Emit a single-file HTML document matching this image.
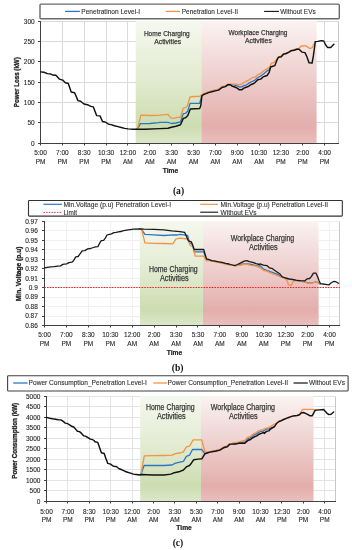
<!DOCTYPE html><html><head><meta charset="utf-8"><style>html,body{margin:0;padding:0;background:#fff;}svg{display:block;}</style></head><body><svg width="352" height="550" viewBox="0 0 352 550">
<rect width="352" height="550" fill="#fff"/>
<defs><linearGradient id="ga" x1="0" y1="0" x2="0" y2="1"><stop offset="0" stop-color="#f5f8ef"/><stop offset="0.5" stop-color="#e1eacf"/><stop offset="0.86" stop-color="#ccddb0"/><stop offset="1" stop-color="#dde7cb"/></linearGradient><linearGradient id="pa" x1="0" y1="0" x2="0" y2="1"><stop offset="0" stop-color="#faf3f2"/><stop offset="0.45" stop-color="#eed0ce"/><stop offset="0.86" stop-color="#e3aeac"/><stop offset="1" stop-color="#e9bebc"/></linearGradient></defs>
<line x1="40.5" y1="21.5" x2="338.5" y2="21.5" stroke="#dadada" stroke-width="1"/>
<line x1="40.5" y1="41.5" x2="338.5" y2="41.5" stroke="#dadada" stroke-width="1"/>
<line x1="40.5" y1="61.5" x2="338.5" y2="61.5" stroke="#dadada" stroke-width="1"/>
<line x1="40.5" y1="82.5" x2="338.5" y2="82.5" stroke="#dadada" stroke-width="1"/>
<line x1="40.5" y1="102.5" x2="338.5" y2="102.5" stroke="#dadada" stroke-width="1"/>
<line x1="40.5" y1="122.5" x2="338.5" y2="122.5" stroke="#dadada" stroke-width="1"/>
<line x1="62.5" y1="21.5" x2="62.5" y2="143.5" stroke="#dadada" stroke-width="1"/>
<line x1="84.5" y1="21.5" x2="84.5" y2="143.5" stroke="#dadada" stroke-width="1"/>
<line x1="106.5" y1="21.5" x2="106.5" y2="143.5" stroke="#dadada" stroke-width="1"/>
<line x1="127.5" y1="21.5" x2="127.5" y2="143.5" stroke="#dadada" stroke-width="1"/>
<line x1="149.5" y1="21.5" x2="149.5" y2="143.5" stroke="#dadada" stroke-width="1"/>
<line x1="171.5" y1="21.5" x2="171.5" y2="143.5" stroke="#dadada" stroke-width="1"/>
<line x1="193.5" y1="21.5" x2="193.5" y2="143.5" stroke="#dadada" stroke-width="1"/>
<line x1="215.5" y1="21.5" x2="215.5" y2="143.5" stroke="#dadada" stroke-width="1"/>
<line x1="237.5" y1="21.5" x2="237.5" y2="143.5" stroke="#dadada" stroke-width="1"/>
<line x1="259.5" y1="21.5" x2="259.5" y2="143.5" stroke="#dadada" stroke-width="1"/>
<line x1="280.5" y1="21.5" x2="280.5" y2="143.5" stroke="#dadada" stroke-width="1"/>
<line x1="302.5" y1="21.5" x2="302.5" y2="143.5" stroke="#dadada" stroke-width="1"/>
<line x1="324.5" y1="21.5" x2="324.5" y2="143.5" stroke="#dadada" stroke-width="1"/>
<rect x="135.7" y="21.0" width="65.60000000000002" height="122.0" fill="url(#ga)"/>
<rect x="201.3" y="21.0" width="115.30000000000001" height="122.0" fill="url(#pa)"/>
<line x1="338.5" y1="21.5" x2="338.5" y2="143.5" stroke="#c8c8c8" stroke-width="1"/>
<line x1="40.5" y1="21.0" x2="40.5" y2="144.0" stroke="#404040" stroke-width="1"/>
<line x1="40.5" y1="143.5" x2="339.0" y2="143.5" stroke="#404040" stroke-width="1"/>
<line x1="38.0" y1="21.5" x2="40.5" y2="21.5" stroke="#404040" stroke-width="1"/>
<line x1="38.0" y1="41.5" x2="40.5" y2="41.5" stroke="#404040" stroke-width="1"/>
<line x1="38.0" y1="61.5" x2="40.5" y2="61.5" stroke="#404040" stroke-width="1"/>
<line x1="38.0" y1="82.5" x2="40.5" y2="82.5" stroke="#404040" stroke-width="1"/>
<line x1="38.0" y1="102.5" x2="40.5" y2="102.5" stroke="#404040" stroke-width="1"/>
<line x1="38.0" y1="122.5" x2="40.5" y2="122.5" stroke="#404040" stroke-width="1"/>
<line x1="38.0" y1="143.5" x2="40.5" y2="143.5" stroke="#404040" stroke-width="1"/>
<line x1="40.5" y1="143.5" x2="40.5" y2="145.5" stroke="#404040" stroke-width="1"/>
<line x1="62.5" y1="143.5" x2="62.5" y2="145.5" stroke="#404040" stroke-width="1"/>
<line x1="84.5" y1="143.5" x2="84.5" y2="145.5" stroke="#404040" stroke-width="1"/>
<line x1="106.5" y1="143.5" x2="106.5" y2="145.5" stroke="#404040" stroke-width="1"/>
<line x1="127.5" y1="143.5" x2="127.5" y2="145.5" stroke="#404040" stroke-width="1"/>
<line x1="149.5" y1="143.5" x2="149.5" y2="145.5" stroke="#404040" stroke-width="1"/>
<line x1="171.5" y1="143.5" x2="171.5" y2="145.5" stroke="#404040" stroke-width="1"/>
<line x1="193.5" y1="143.5" x2="193.5" y2="145.5" stroke="#404040" stroke-width="1"/>
<line x1="215.5" y1="143.5" x2="215.5" y2="145.5" stroke="#404040" stroke-width="1"/>
<line x1="237.5" y1="143.5" x2="237.5" y2="145.5" stroke="#404040" stroke-width="1"/>
<line x1="259.5" y1="143.5" x2="259.5" y2="145.5" stroke="#404040" stroke-width="1"/>
<line x1="280.5" y1="143.5" x2="280.5" y2="145.5" stroke="#404040" stroke-width="1"/>
<line x1="302.5" y1="143.5" x2="302.5" y2="145.5" stroke="#404040" stroke-width="1"/>
<line x1="324.5" y1="143.5" x2="324.5" y2="145.5" stroke="#404040" stroke-width="1"/>
<text x="34.7" y="23.7" font-family='"Liberation Sans", Arial, sans-serif' font-size="6.5" text-anchor="end" font-weight="normal" fill="#2a2a2a" stroke="#2a2a2a" stroke-width="0.12" >300</text>
<text x="34.7" y="43.7" font-family='"Liberation Sans", Arial, sans-serif' font-size="6.5" text-anchor="end" font-weight="normal" fill="#2a2a2a" stroke="#2a2a2a" stroke-width="0.12" >250</text>
<text x="34.7" y="63.7" font-family='"Liberation Sans", Arial, sans-serif' font-size="6.5" text-anchor="end" font-weight="normal" fill="#2a2a2a" stroke="#2a2a2a" stroke-width="0.12" >200</text>
<text x="34.7" y="84.7" font-family='"Liberation Sans", Arial, sans-serif' font-size="6.5" text-anchor="end" font-weight="normal" fill="#2a2a2a" stroke="#2a2a2a" stroke-width="0.12" >150</text>
<text x="34.7" y="104.7" font-family='"Liberation Sans", Arial, sans-serif' font-size="6.5" text-anchor="end" font-weight="normal" fill="#2a2a2a" stroke="#2a2a2a" stroke-width="0.12" >100</text>
<text x="34.7" y="124.7" font-family='"Liberation Sans", Arial, sans-serif' font-size="6.5" text-anchor="end" font-weight="normal" fill="#2a2a2a" stroke="#2a2a2a" stroke-width="0.12" >50</text>
<text x="34.7" y="145.7" font-family='"Liberation Sans", Arial, sans-serif' font-size="6.5" text-anchor="end" font-weight="normal" fill="#2a2a2a" stroke="#2a2a2a" stroke-width="0.12" >0</text>
<text x="40.5" y="154.8" font-family='"Liberation Sans", Arial, sans-serif' font-size="6.5" text-anchor="middle" font-weight="normal" fill="#2a2a2a" stroke="#2a2a2a" stroke-width="0.12" >5:00</text>
<text x="40.5" y="164.2" font-family='"Liberation Sans", Arial, sans-serif' font-size="6.5" text-anchor="middle" font-weight="normal" fill="#2a2a2a" stroke="#2a2a2a" stroke-width="0.12" >PM</text>
<text x="62.4" y="154.8" font-family='"Liberation Sans", Arial, sans-serif' font-size="6.5" text-anchor="middle" font-weight="normal" fill="#2a2a2a" stroke="#2a2a2a" stroke-width="0.12" >7:00</text>
<text x="62.4" y="164.2" font-family='"Liberation Sans", Arial, sans-serif' font-size="6.5" text-anchor="middle" font-weight="normal" fill="#2a2a2a" stroke="#2a2a2a" stroke-width="0.12" >PM</text>
<text x="84.2" y="154.8" font-family='"Liberation Sans", Arial, sans-serif' font-size="6.5" text-anchor="middle" font-weight="normal" fill="#2a2a2a" stroke="#2a2a2a" stroke-width="0.12" >8:30</text>
<text x="84.2" y="164.2" font-family='"Liberation Sans", Arial, sans-serif' font-size="6.5" text-anchor="middle" font-weight="normal" fill="#2a2a2a" stroke="#2a2a2a" stroke-width="0.12" >PM</text>
<text x="106.1" y="154.8" font-family='"Liberation Sans", Arial, sans-serif' font-size="6.5" text-anchor="middle" font-weight="normal" fill="#2a2a2a" stroke="#2a2a2a" stroke-width="0.12" >10:30</text>
<text x="106.1" y="164.2" font-family='"Liberation Sans", Arial, sans-serif' font-size="6.5" text-anchor="middle" font-weight="normal" fill="#2a2a2a" stroke="#2a2a2a" stroke-width="0.12" >PM</text>
<text x="127.9" y="154.8" font-family='"Liberation Sans", Arial, sans-serif' font-size="6.5" text-anchor="middle" font-weight="normal" fill="#2a2a2a" stroke="#2a2a2a" stroke-width="0.12" >12:00</text>
<text x="127.9" y="164.2" font-family='"Liberation Sans", Arial, sans-serif' font-size="6.5" text-anchor="middle" font-weight="normal" fill="#2a2a2a" stroke="#2a2a2a" stroke-width="0.12" >AM</text>
<text x="149.8" y="154.8" font-family='"Liberation Sans", Arial, sans-serif' font-size="6.5" text-anchor="middle" font-weight="normal" fill="#2a2a2a" stroke="#2a2a2a" stroke-width="0.12" >2:00</text>
<text x="149.8" y="164.2" font-family='"Liberation Sans", Arial, sans-serif' font-size="6.5" text-anchor="middle" font-weight="normal" fill="#2a2a2a" stroke="#2a2a2a" stroke-width="0.12" >AM</text>
<text x="171.6" y="154.8" font-family='"Liberation Sans", Arial, sans-serif' font-size="6.5" text-anchor="middle" font-weight="normal" fill="#2a2a2a" stroke="#2a2a2a" stroke-width="0.12" >3:30</text>
<text x="171.6" y="164.2" font-family='"Liberation Sans", Arial, sans-serif' font-size="6.5" text-anchor="middle" font-weight="normal" fill="#2a2a2a" stroke="#2a2a2a" stroke-width="0.12" >AM</text>
<text x="193.5" y="154.8" font-family='"Liberation Sans", Arial, sans-serif' font-size="6.5" text-anchor="middle" font-weight="normal" fill="#2a2a2a" stroke="#2a2a2a" stroke-width="0.12" >5:30</text>
<text x="193.5" y="164.2" font-family='"Liberation Sans", Arial, sans-serif' font-size="6.5" text-anchor="middle" font-weight="normal" fill="#2a2a2a" stroke="#2a2a2a" stroke-width="0.12" >AM</text>
<text x="215.3" y="154.8" font-family='"Liberation Sans", Arial, sans-serif' font-size="6.5" text-anchor="middle" font-weight="normal" fill="#2a2a2a" stroke="#2a2a2a" stroke-width="0.12" >7:00</text>
<text x="215.3" y="164.2" font-family='"Liberation Sans", Arial, sans-serif' font-size="6.5" text-anchor="middle" font-weight="normal" fill="#2a2a2a" stroke="#2a2a2a" stroke-width="0.12" >AM</text>
<text x="237.2" y="154.8" font-family='"Liberation Sans", Arial, sans-serif' font-size="6.5" text-anchor="middle" font-weight="normal" fill="#2a2a2a" stroke="#2a2a2a" stroke-width="0.12" >9:00</text>
<text x="237.2" y="164.2" font-family='"Liberation Sans", Arial, sans-serif' font-size="6.5" text-anchor="middle" font-weight="normal" fill="#2a2a2a" stroke="#2a2a2a" stroke-width="0.12" >AM</text>
<text x="259.0" y="154.8" font-family='"Liberation Sans", Arial, sans-serif' font-size="6.5" text-anchor="middle" font-weight="normal" fill="#2a2a2a" stroke="#2a2a2a" stroke-width="0.12" >10:30</text>
<text x="259.0" y="164.2" font-family='"Liberation Sans", Arial, sans-serif' font-size="6.5" text-anchor="middle" font-weight="normal" fill="#2a2a2a" stroke="#2a2a2a" stroke-width="0.12" >AM</text>
<text x="280.9" y="154.8" font-family='"Liberation Sans", Arial, sans-serif' font-size="6.5" text-anchor="middle" font-weight="normal" fill="#2a2a2a" stroke="#2a2a2a" stroke-width="0.12" >12:30</text>
<text x="280.9" y="164.2" font-family='"Liberation Sans", Arial, sans-serif' font-size="6.5" text-anchor="middle" font-weight="normal" fill="#2a2a2a" stroke="#2a2a2a" stroke-width="0.12" >PM</text>
<text x="302.7" y="154.8" font-family='"Liberation Sans", Arial, sans-serif' font-size="6.5" text-anchor="middle" font-weight="normal" fill="#2a2a2a" stroke="#2a2a2a" stroke-width="0.12" >2:00</text>
<text x="302.7" y="164.2" font-family='"Liberation Sans", Arial, sans-serif' font-size="6.5" text-anchor="middle" font-weight="normal" fill="#2a2a2a" stroke="#2a2a2a" stroke-width="0.12" >PM</text>
<text x="324.6" y="154.8" font-family='"Liberation Sans", Arial, sans-serif' font-size="6.5" text-anchor="middle" font-weight="normal" fill="#2a2a2a" stroke="#2a2a2a" stroke-width="0.12" >4:00</text>
<text x="324.6" y="164.2" font-family='"Liberation Sans", Arial, sans-serif' font-size="6.5" text-anchor="middle" font-weight="normal" fill="#2a2a2a" stroke="#2a2a2a" stroke-width="0.12" >PM</text>
<text transform="translate(19.4,82.2) rotate(-90)" x="0" y="0" font-family='"Liberation Sans", Arial, sans-serif' font-size="6.8" font-weight="bold" text-anchor="middle" fill="#1e1e1e" stroke="#1e1e1e" stroke-width="0.3" textLength="50" lengthAdjust="spacingAndGlyphs">Power Loss (kW)</text>
<text x="170.5" y="172.6" font-family='"Liberation Sans", Arial, sans-serif' font-size="6.7" text-anchor="middle" font-weight="bold" fill="#1e1e1e" stroke="#1e1e1e" stroke-width="0.2" >Time</text>
<text x="178.5" y="194.2" font-family='"Liberation Serif", "Times New Roman", serif' font-size="9.6" text-anchor="middle" font-weight="bold" fill="#111" >(a)</text>
<text x="166.8" y="35.7" font-family='"Liberation Sans", Arial, sans-serif' font-size="7.4" text-anchor="middle" font-weight="normal" fill="#383838" textLength="45.8" lengthAdjust="spacingAndGlyphs" stroke="#383838" stroke-width="0.25" >Home Charging</text>
<text x="167.7" y="44.0" font-family='"Liberation Sans", Arial, sans-serif' font-size="7.4" text-anchor="middle" font-weight="normal" fill="#383838" textLength="26.8" lengthAdjust="spacingAndGlyphs" stroke="#383838" stroke-width="0.25" >Activities</text>
<text x="258" y="35.1" font-family='"Liberation Sans", Arial, sans-serif' font-size="7.4" text-anchor="middle" font-weight="normal" fill="#383838" textLength="58.9" lengthAdjust="spacingAndGlyphs" stroke="#383838" stroke-width="0.25" >Workplace Charging</text>
<text x="258.4" y="43.3" font-family='"Liberation Sans", Arial, sans-serif' font-size="7.4" text-anchor="middle" font-weight="normal" fill="#383838" textLength="26.8" lengthAdjust="spacingAndGlyphs" stroke="#383838" stroke-width="0.25" >Activities</text>
<rect x="40" y="4.1" width="299.3" height="14.6" rx="1" fill="#fff" stroke="#6a6a6a" stroke-width="1.4"/>
<polyline points="65.1,11.4 79.9,11.4" fill="none" stroke="#2a77c4" stroke-width="1.3" stroke-linejoin="round" stroke-linecap="butt"/>
<text x="81.3" y="13.7" font-family='"Liberation Sans", Arial, sans-serif' font-size="6.6" text-anchor="start" font-weight="normal" fill="#303030" textLength="58.9" lengthAdjust="spacingAndGlyphs" stroke="#303030" stroke-width="0.1" >Penetratinon Level-I</text>
<polyline points="165.7,11.4 180.0,11.4" fill="none" stroke="#f19446" stroke-width="1.3" stroke-linejoin="round" stroke-linecap="butt"/>
<text x="181.8" y="13.7" font-family='"Liberation Sans", Arial, sans-serif' font-size="6.6" text-anchor="start" font-weight="normal" fill="#303030" textLength="56.2" lengthAdjust="spacingAndGlyphs" stroke="#303030" stroke-width="0.1" >Penetration Level-II</text>
<polyline points="264.1,11.4 278.9,11.4" fill="none" stroke="#111" stroke-width="1.1" stroke-linejoin="round" stroke-linecap="butt"/>
<text x="280.2" y="13.7" font-family='"Liberation Sans", Arial, sans-serif' font-size="6.6" text-anchor="start" font-weight="normal" fill="#303030" textLength="35.5" lengthAdjust="spacingAndGlyphs" stroke="#303030" stroke-width="0.1" >Without EVs</text>
<polyline points="136.5,129.2 138.3,127.8 140.4,123.6 150.0,123.5 158.5,122.6 160.0,122.4 168.0,122.4 171.4,123.5 175.9,123.0 180.5,121.8 183.3,113.6 185.6,113.3 187.8,111.0 190.1,103.3 199.7,103.3 201.4,97.0 202.5,94.8 206.2,92.8 211.8,91.2 218.6,89.6 222.0,87.0 225.5,86.0 228.0,84.5 232.5,84.7 237.1,85.9 239.4,87.0 241.6,86.8 243.9,85.6 246.2,85.1 248.5,83.4 250.7,82.0 253.0,81.1 255.0,80.0 257.8,77.5 260.7,76.1 263.5,73.9 266.4,71.4 269.2,69.8 270.6,67.0" fill="none" stroke="#2a77c4" stroke-width="1.3" stroke-linejoin="round" stroke-linecap="round" />
<polyline points="136.5,129.2 137.5,128.9 140.9,115.2 150.0,115.5 158.5,115.3 160.0,115.2 168.0,114.4 170.8,117.8 173.6,118.4 177.0,117.3 180.5,117.3 183.3,108.2 185.6,107.6 187.3,105.9 190.1,96.8 194.1,96.5 200.0,96.4 200.3,95.9 202.0,94.5 206.2,92.6 211.8,90.8 218.6,89.2 222.0,86.6 225.5,85.6 228.0,84.2 234.8,84.2 239.4,84.7 241.6,84.2 243.9,82.5 246.2,81.3 248.5,80.2 250.7,78.8 253.0,77.3 255.0,77.2 257.8,74.8 260.7,73.4 263.5,71.0 266.4,69.1 269.2,67.7 271.3,63.4 273.5,62.7 276.3,59.9 278.4,57.0 281.3,55.8 283.4,53.8 286.3,53.0 289.1,51.6 291.9,50.2 294.8,49.4 297.6,48.6 299.5,48.1 300.5,46.4 302.9,45.6 306.3,45.9 309.7,48.6 312.3,47.6 314.8,42.2 315.3,41.6" fill="none" stroke="#f19446" stroke-width="1.3" stroke-linejoin="round" stroke-linecap="round" />
<polyline points="40.6,71.9 44.0,72.3 47.4,73.6 50.8,74.0 52.5,75.0 55.9,75.3 59.3,79.1 62.7,80.1 65.3,82.7 68.3,83.5 71.2,92.0 74.6,92.7 78.0,100.6 80.6,101.2 84.0,104.0 87.4,104.7 90.8,106.4 93.4,106.9 96.6,115.6 100.0,115.9 102.5,121.5 105.1,122.0 108.5,124.1 111.0,124.6 114.5,125.8 117.9,126.6 121.3,127.5 124.7,128.4 128.1,128.9 133.2,129.2 138.3,129.2 145.1,129.2 160.0,128.6 168.0,128.3 171.4,127.2 175.9,126.2 180.5,124.7 183.3,118.4 185.6,117.8 187.8,115.6 190.3,109.0 199.7,108.5 200.8,105.6 201.9,95.9 203.6,94.5 206.2,93.6 208.4,92.6 211.8,91.8 215.2,90.9 218.6,90.1 222.0,87.5 225.5,86.6 228.0,84.7 230.3,84.7 232.5,86.4 234.8,87.0 237.1,88.1 239.4,89.8 241.6,89.8 243.9,88.1 246.2,87.2 248.5,86.4 250.7,84.7 253.0,83.8 255.0,82.6 257.8,79.8 260.7,79.1 262.8,77.2 264.9,76.2 267.1,75.5 269.2,72.4 270.6,67.0 272.8,66.3 274.9,65.6 277.0,59.9 278.4,57.3 281.3,56.8 283.4,54.2 286.3,53.5 289.1,52.1 291.2,50.7 294.1,50.2 296.9,49.2 299.0,49.2 301.9,52.1 305.0,52.6 307.0,57.0 309.0,62.7 312.1,63.0 313.4,55.7 315.3,41.6 317.9,41.4 321.1,40.6 323.7,41.0 325.6,44.8 327.5,47.4 330.7,47.4 333.9,44.2" fill="none" stroke="#111" stroke-width="1.45" stroke-linejoin="round" stroke-linecap="round" />
<defs><linearGradient id="gb" x1="0" y1="0" x2="0" y2="1"><stop offset="0" stop-color="#f5f8ef"/><stop offset="0.5" stop-color="#e1eacf"/><stop offset="0.86" stop-color="#ccddb0"/><stop offset="1" stop-color="#dde7cb"/></linearGradient><linearGradient id="pb" x1="0" y1="0" x2="0" y2="1"><stop offset="0" stop-color="#faf3f2"/><stop offset="0.45" stop-color="#eed0ce"/><stop offset="0.86" stop-color="#e3aeac"/><stop offset="1" stop-color="#e9bebc"/></linearGradient></defs>
<line x1="44.5" y1="221.5" x2="339.5" y2="221.5" stroke="#f0f0f0" stroke-width="1"/>
<line x1="44.5" y1="230.5" x2="339.5" y2="230.5" stroke="#f0f0f0" stroke-width="1"/>
<line x1="44.5" y1="240.5" x2="339.5" y2="240.5" stroke="#f0f0f0" stroke-width="1"/>
<line x1="44.5" y1="249.5" x2="339.5" y2="249.5" stroke="#f0f0f0" stroke-width="1"/>
<line x1="44.5" y1="259.5" x2="339.5" y2="259.5" stroke="#f0f0f0" stroke-width="1"/>
<line x1="44.5" y1="268.5" x2="339.5" y2="268.5" stroke="#f0f0f0" stroke-width="1"/>
<line x1="44.5" y1="278.5" x2="339.5" y2="278.5" stroke="#f0f0f0" stroke-width="1"/>
<line x1="44.5" y1="287.5" x2="339.5" y2="287.5" stroke="#f0f0f0" stroke-width="1"/>
<line x1="44.5" y1="297.5" x2="339.5" y2="297.5" stroke="#f0f0f0" stroke-width="1"/>
<line x1="44.5" y1="306.5" x2="339.5" y2="306.5" stroke="#f0f0f0" stroke-width="1"/>
<line x1="44.5" y1="316.5" x2="339.5" y2="316.5" stroke="#f0f0f0" stroke-width="1"/>
<line x1="66.5" y1="221.5" x2="66.5" y2="325.5" stroke="#f0f0f0" stroke-width="1"/>
<line x1="88.5" y1="221.5" x2="88.5" y2="325.5" stroke="#f0f0f0" stroke-width="1"/>
<line x1="110.5" y1="221.5" x2="110.5" y2="325.5" stroke="#f0f0f0" stroke-width="1"/>
<line x1="132.5" y1="221.5" x2="132.5" y2="325.5" stroke="#f0f0f0" stroke-width="1"/>
<line x1="154.5" y1="221.5" x2="154.5" y2="325.5" stroke="#f0f0f0" stroke-width="1"/>
<line x1="176.5" y1="221.5" x2="176.5" y2="325.5" stroke="#f0f0f0" stroke-width="1"/>
<line x1="197.5" y1="221.5" x2="197.5" y2="325.5" stroke="#f0f0f0" stroke-width="1"/>
<line x1="219.5" y1="221.5" x2="219.5" y2="325.5" stroke="#f0f0f0" stroke-width="1"/>
<line x1="241.5" y1="221.5" x2="241.5" y2="325.5" stroke="#f0f0f0" stroke-width="1"/>
<line x1="263.5" y1="221.5" x2="263.5" y2="325.5" stroke="#f0f0f0" stroke-width="1"/>
<line x1="285.5" y1="221.5" x2="285.5" y2="325.5" stroke="#f0f0f0" stroke-width="1"/>
<line x1="307.5" y1="221.5" x2="307.5" y2="325.5" stroke="#f0f0f0" stroke-width="1"/>
<line x1="329.5" y1="221.5" x2="329.5" y2="325.5" stroke="#f0f0f0" stroke-width="1"/>
<rect x="139.9" y="221.0" width="63.099999999999994" height="104.0" fill="url(#gb)"/>
<rect x="203.0" y="221.0" width="115.60000000000002" height="104.0" fill="url(#pb)"/>
<line x1="339.5" y1="221.5" x2="339.5" y2="325.5" stroke="#c8c8c8" stroke-width="1"/>
<line x1="44.5" y1="221.0" x2="44.5" y2="326.0" stroke="#404040" stroke-width="1"/>
<line x1="44.5" y1="325.5" x2="340.0" y2="325.5" stroke="#404040" stroke-width="1"/>
<line x1="42.0" y1="221.5" x2="44.5" y2="221.5" stroke="#404040" stroke-width="1"/>
<line x1="42.0" y1="230.5" x2="44.5" y2="230.5" stroke="#404040" stroke-width="1"/>
<line x1="42.0" y1="240.5" x2="44.5" y2="240.5" stroke="#404040" stroke-width="1"/>
<line x1="42.0" y1="249.5" x2="44.5" y2="249.5" stroke="#404040" stroke-width="1"/>
<line x1="42.0" y1="259.5" x2="44.5" y2="259.5" stroke="#404040" stroke-width="1"/>
<line x1="42.0" y1="268.5" x2="44.5" y2="268.5" stroke="#404040" stroke-width="1"/>
<line x1="42.0" y1="278.5" x2="44.5" y2="278.5" stroke="#404040" stroke-width="1"/>
<line x1="42.0" y1="287.5" x2="44.5" y2="287.5" stroke="#404040" stroke-width="1"/>
<line x1="42.0" y1="297.5" x2="44.5" y2="297.5" stroke="#404040" stroke-width="1"/>
<line x1="42.0" y1="306.5" x2="44.5" y2="306.5" stroke="#404040" stroke-width="1"/>
<line x1="42.0" y1="316.5" x2="44.5" y2="316.5" stroke="#404040" stroke-width="1"/>
<line x1="42.0" y1="325.5" x2="44.5" y2="325.5" stroke="#404040" stroke-width="1"/>
<line x1="44.5" y1="325.5" x2="44.5" y2="327.5" stroke="#404040" stroke-width="1"/>
<line x1="66.5" y1="325.5" x2="66.5" y2="327.5" stroke="#404040" stroke-width="1"/>
<line x1="88.5" y1="325.5" x2="88.5" y2="327.5" stroke="#404040" stroke-width="1"/>
<line x1="110.5" y1="325.5" x2="110.5" y2="327.5" stroke="#404040" stroke-width="1"/>
<line x1="132.5" y1="325.5" x2="132.5" y2="327.5" stroke="#404040" stroke-width="1"/>
<line x1="154.5" y1="325.5" x2="154.5" y2="327.5" stroke="#404040" stroke-width="1"/>
<line x1="176.5" y1="325.5" x2="176.5" y2="327.5" stroke="#404040" stroke-width="1"/>
<line x1="197.5" y1="325.5" x2="197.5" y2="327.5" stroke="#404040" stroke-width="1"/>
<line x1="219.5" y1="325.5" x2="219.5" y2="327.5" stroke="#404040" stroke-width="1"/>
<line x1="241.5" y1="325.5" x2="241.5" y2="327.5" stroke="#404040" stroke-width="1"/>
<line x1="263.5" y1="325.5" x2="263.5" y2="327.5" stroke="#404040" stroke-width="1"/>
<line x1="285.5" y1="325.5" x2="285.5" y2="327.5" stroke="#404040" stroke-width="1"/>
<line x1="307.5" y1="325.5" x2="307.5" y2="327.5" stroke="#404040" stroke-width="1"/>
<line x1="329.5" y1="325.5" x2="329.5" y2="327.5" stroke="#404040" stroke-width="1"/>
<text x="37.8" y="223.7" font-family='"Liberation Sans", Arial, sans-serif' font-size="6.5" text-anchor="end" font-weight="normal" fill="#2a2a2a" stroke="#2a2a2a" stroke-width="0.12" >0.97</text>
<text x="37.8" y="233.17" font-family='"Liberation Sans", Arial, sans-serif' font-size="6.5" text-anchor="end" font-weight="normal" fill="#2a2a2a" stroke="#2a2a2a" stroke-width="0.12" >0.96</text>
<text x="37.8" y="242.64000000000001" font-family='"Liberation Sans", Arial, sans-serif' font-size="6.5" text-anchor="end" font-weight="normal" fill="#2a2a2a" stroke="#2a2a2a" stroke-width="0.12" >0.95</text>
<text x="37.8" y="252.11" font-family='"Liberation Sans", Arial, sans-serif' font-size="6.5" text-anchor="end" font-weight="normal" fill="#2a2a2a" stroke="#2a2a2a" stroke-width="0.12" >0.94</text>
<text x="37.8" y="261.58000000000004" font-family='"Liberation Sans", Arial, sans-serif' font-size="6.5" text-anchor="end" font-weight="normal" fill="#2a2a2a" stroke="#2a2a2a" stroke-width="0.12" >0.93</text>
<text x="37.8" y="271.05" font-family='"Liberation Sans", Arial, sans-serif' font-size="6.5" text-anchor="end" font-weight="normal" fill="#2a2a2a" stroke="#2a2a2a" stroke-width="0.12" >0.92</text>
<text x="37.8" y="280.52000000000004" font-family='"Liberation Sans", Arial, sans-serif' font-size="6.5" text-anchor="end" font-weight="normal" fill="#2a2a2a" stroke="#2a2a2a" stroke-width="0.12" >0.91</text>
<text x="37.8" y="289.99000000000007" font-family='"Liberation Sans", Arial, sans-serif' font-size="6.5" text-anchor="end" font-weight="normal" fill="#2a2a2a" stroke="#2a2a2a" stroke-width="0.12" >0.9</text>
<text x="37.8" y="299.46" font-family='"Liberation Sans", Arial, sans-serif' font-size="6.5" text-anchor="end" font-weight="normal" fill="#2a2a2a" stroke="#2a2a2a" stroke-width="0.12" >0.89</text>
<text x="37.8" y="308.92999999999995" font-family='"Liberation Sans", Arial, sans-serif' font-size="6.5" text-anchor="end" font-weight="normal" fill="#2a2a2a" stroke="#2a2a2a" stroke-width="0.12" >0.88</text>
<text x="37.8" y="318.4" font-family='"Liberation Sans", Arial, sans-serif' font-size="6.5" text-anchor="end" font-weight="normal" fill="#2a2a2a" stroke="#2a2a2a" stroke-width="0.12" >0.87</text>
<text x="37.8" y="327.86999999999995" font-family='"Liberation Sans", Arial, sans-serif' font-size="6.5" text-anchor="end" font-weight="normal" fill="#2a2a2a" stroke="#2a2a2a" stroke-width="0.12" >0.86</text>
<text x="44.5" y="337.3" font-family='"Liberation Sans", Arial, sans-serif' font-size="6.5" text-anchor="middle" font-weight="normal" fill="#2a2a2a" stroke="#2a2a2a" stroke-width="0.12" >5:00</text>
<text x="44.5" y="345.6" font-family='"Liberation Sans", Arial, sans-serif' font-size="6.5" text-anchor="middle" font-weight="normal" fill="#2a2a2a" stroke="#2a2a2a" stroke-width="0.12" >PM</text>
<text x="66.4" y="337.3" font-family='"Liberation Sans", Arial, sans-serif' font-size="6.5" text-anchor="middle" font-weight="normal" fill="#2a2a2a" stroke="#2a2a2a" stroke-width="0.12" >7:00</text>
<text x="66.4" y="345.6" font-family='"Liberation Sans", Arial, sans-serif' font-size="6.5" text-anchor="middle" font-weight="normal" fill="#2a2a2a" stroke="#2a2a2a" stroke-width="0.12" >PM</text>
<text x="88.3" y="337.3" font-family='"Liberation Sans", Arial, sans-serif' font-size="6.5" text-anchor="middle" font-weight="normal" fill="#2a2a2a" stroke="#2a2a2a" stroke-width="0.12" >8:30</text>
<text x="88.3" y="345.6" font-family='"Liberation Sans", Arial, sans-serif' font-size="6.5" text-anchor="middle" font-weight="normal" fill="#2a2a2a" stroke="#2a2a2a" stroke-width="0.12" >PM</text>
<text x="110.3" y="337.3" font-family='"Liberation Sans", Arial, sans-serif' font-size="6.5" text-anchor="middle" font-weight="normal" fill="#2a2a2a" stroke="#2a2a2a" stroke-width="0.12" >10:30</text>
<text x="110.3" y="345.6" font-family='"Liberation Sans", Arial, sans-serif' font-size="6.5" text-anchor="middle" font-weight="normal" fill="#2a2a2a" stroke="#2a2a2a" stroke-width="0.12" >PM</text>
<text x="132.2" y="337.3" font-family='"Liberation Sans", Arial, sans-serif' font-size="6.5" text-anchor="middle" font-weight="normal" fill="#2a2a2a" stroke="#2a2a2a" stroke-width="0.12" >12:00</text>
<text x="132.2" y="345.6" font-family='"Liberation Sans", Arial, sans-serif' font-size="6.5" text-anchor="middle" font-weight="normal" fill="#2a2a2a" stroke="#2a2a2a" stroke-width="0.12" >AM</text>
<text x="154.1" y="337.3" font-family='"Liberation Sans", Arial, sans-serif' font-size="6.5" text-anchor="middle" font-weight="normal" fill="#2a2a2a" stroke="#2a2a2a" stroke-width="0.12" >2:00</text>
<text x="154.1" y="345.6" font-family='"Liberation Sans", Arial, sans-serif' font-size="6.5" text-anchor="middle" font-weight="normal" fill="#2a2a2a" stroke="#2a2a2a" stroke-width="0.12" >AM</text>
<text x="176.0" y="337.3" font-family='"Liberation Sans", Arial, sans-serif' font-size="6.5" text-anchor="middle" font-weight="normal" fill="#2a2a2a" stroke="#2a2a2a" stroke-width="0.12" >3:30</text>
<text x="176.0" y="345.6" font-family='"Liberation Sans", Arial, sans-serif' font-size="6.5" text-anchor="middle" font-weight="normal" fill="#2a2a2a" stroke="#2a2a2a" stroke-width="0.12" >AM</text>
<text x="198.0" y="337.3" font-family='"Liberation Sans", Arial, sans-serif' font-size="6.5" text-anchor="middle" font-weight="normal" fill="#2a2a2a" stroke="#2a2a2a" stroke-width="0.12" >5:30</text>
<text x="198.0" y="345.6" font-family='"Liberation Sans", Arial, sans-serif' font-size="6.5" text-anchor="middle" font-weight="normal" fill="#2a2a2a" stroke="#2a2a2a" stroke-width="0.12" >AM</text>
<text x="219.9" y="337.3" font-family='"Liberation Sans", Arial, sans-serif' font-size="6.5" text-anchor="middle" font-weight="normal" fill="#2a2a2a" stroke="#2a2a2a" stroke-width="0.12" >7:00</text>
<text x="219.9" y="345.6" font-family='"Liberation Sans", Arial, sans-serif' font-size="6.5" text-anchor="middle" font-weight="normal" fill="#2a2a2a" stroke="#2a2a2a" stroke-width="0.12" >AM</text>
<text x="241.8" y="337.3" font-family='"Liberation Sans", Arial, sans-serif' font-size="6.5" text-anchor="middle" font-weight="normal" fill="#2a2a2a" stroke="#2a2a2a" stroke-width="0.12" >9:00</text>
<text x="241.8" y="345.6" font-family='"Liberation Sans", Arial, sans-serif' font-size="6.5" text-anchor="middle" font-weight="normal" fill="#2a2a2a" stroke="#2a2a2a" stroke-width="0.12" >AM</text>
<text x="263.7" y="337.3" font-family='"Liberation Sans", Arial, sans-serif' font-size="6.5" text-anchor="middle" font-weight="normal" fill="#2a2a2a" stroke="#2a2a2a" stroke-width="0.12" >10:30</text>
<text x="263.7" y="345.6" font-family='"Liberation Sans", Arial, sans-serif' font-size="6.5" text-anchor="middle" font-weight="normal" fill="#2a2a2a" stroke="#2a2a2a" stroke-width="0.12" >AM</text>
<text x="285.7" y="337.3" font-family='"Liberation Sans", Arial, sans-serif' font-size="6.5" text-anchor="middle" font-weight="normal" fill="#2a2a2a" stroke="#2a2a2a" stroke-width="0.12" >12:30</text>
<text x="285.7" y="345.6" font-family='"Liberation Sans", Arial, sans-serif' font-size="6.5" text-anchor="middle" font-weight="normal" fill="#2a2a2a" stroke="#2a2a2a" stroke-width="0.12" >PM</text>
<text x="307.6" y="337.3" font-family='"Liberation Sans", Arial, sans-serif' font-size="6.5" text-anchor="middle" font-weight="normal" fill="#2a2a2a" stroke="#2a2a2a" stroke-width="0.12" >2:00</text>
<text x="307.6" y="345.6" font-family='"Liberation Sans", Arial, sans-serif' font-size="6.5" text-anchor="middle" font-weight="normal" fill="#2a2a2a" stroke="#2a2a2a" stroke-width="0.12" >PM</text>
<text x="329.5" y="337.3" font-family='"Liberation Sans", Arial, sans-serif' font-size="6.5" text-anchor="middle" font-weight="normal" fill="#2a2a2a" stroke="#2a2a2a" stroke-width="0.12" >4:00</text>
<text x="329.5" y="345.6" font-family='"Liberation Sans", Arial, sans-serif' font-size="6.5" text-anchor="middle" font-weight="normal" fill="#2a2a2a" stroke="#2a2a2a" stroke-width="0.12" >PM</text>
<text transform="translate(21.3,273.9) rotate(-90)" x="0" y="0" font-family='"Liberation Sans", Arial, sans-serif' font-size="6.8" font-weight="bold" text-anchor="middle" fill="#1e1e1e" stroke="#1e1e1e" stroke-width="0.3" textLength="54.6" lengthAdjust="spacingAndGlyphs">Min. Voltage (p.u)</text>
<text x="174.5" y="355.0" font-family='"Liberation Sans", Arial, sans-serif' font-size="6.7" text-anchor="middle" font-weight="bold" fill="#1e1e1e" stroke="#1e1e1e" stroke-width="0.2" >Time</text>
<text x="177.7" y="370.5" font-family='"Liberation Serif", "Times New Roman", serif' font-size="9.6" text-anchor="middle" font-weight="bold" fill="#111" >(b)</text>
<text x="173.3" y="272.0" font-family='"Liberation Sans", Arial, sans-serif' font-size="8.3" text-anchor="middle" font-weight="normal" fill="#383838" textLength="48.8" lengthAdjust="spacingAndGlyphs" stroke="#383838" stroke-width="0.25" >Home Charging</text>
<text x="174.3" y="280.9" font-family='"Liberation Sans", Arial, sans-serif' font-size="8.3" text-anchor="middle" font-weight="normal" fill="#383838" textLength="28.8" lengthAdjust="spacingAndGlyphs" stroke="#383838" stroke-width="0.25" >Activities</text>
<text x="262.5" y="241.2" font-family='"Liberation Sans", Arial, sans-serif' font-size="8.3" text-anchor="middle" font-weight="normal" fill="#383838" textLength="63.6" lengthAdjust="spacingAndGlyphs" stroke="#383838" stroke-width="0.25" >Workplace Charging</text>
<text x="263.3" y="250.1" font-family='"Liberation Sans", Arial, sans-serif' font-size="8.3" text-anchor="middle" font-weight="normal" fill="#383838" textLength="28.8" lengthAdjust="spacingAndGlyphs" stroke="#383838" stroke-width="0.25" >Activities</text>
<rect x="28.5" y="200.5" width="313.8" height="15.6" rx="0.8" fill="#fff" stroke="#333" stroke-width="1.1"/>
<polyline points="43.4,204.3 61.8,204.3" fill="none" stroke="#2a77c4" stroke-width="1.2" stroke-linejoin="round" stroke-linecap="butt"/>
<text x="63.5" y="207.0" font-family='"Liberation Sans", Arial, sans-serif' font-size="6.6" text-anchor="start" font-weight="normal" fill="#303030" textLength="107.5" lengthAdjust="spacingAndGlyphs" stroke="#303030" stroke-width="0.1" >Min.Voltage (p.u) Penetration Level-I</text>
<polyline points="43.4,212.4 61.8,212.4" fill="none" stroke="#f03c3c" stroke-width="1.0" stroke-linejoin="round" stroke-dasharray="1.6,1.1" stroke-linecap="butt"/>
<text x="63.5" y="214.8" font-family='"Liberation Sans", Arial, sans-serif' font-size="6.6" text-anchor="start" font-weight="normal" fill="#303030" textLength="13.5" lengthAdjust="spacingAndGlyphs" stroke="#303030" stroke-width="0.1" >Limit</text>
<polyline points="200.2,204.3 218.1,204.3" fill="none" stroke="#f19446" stroke-width="1.2" stroke-linejoin="round" stroke-linecap="butt"/>
<text x="220.6" y="206.9" font-family='"Liberation Sans", Arial, sans-serif' font-size="6.6" text-anchor="start" font-weight="normal" fill="#303030" textLength="107.4" lengthAdjust="spacingAndGlyphs" stroke="#303030" stroke-width="0.1" >Min.Voltage (p.u) Penetration Level-II</text>
<polyline points="200.2,212.2 218.1,212.2" fill="none" stroke="#111" stroke-width="1.1" stroke-linejoin="round" stroke-linecap="butt"/>
<text x="220.6" y="214.6" font-family='"Liberation Sans", Arial, sans-serif' font-size="6.6" text-anchor="start" font-weight="normal" fill="#303030" textLength="36" lengthAdjust="spacingAndGlyphs" stroke="#303030" stroke-width="0.1" >Without EVs</text>
<polyline points="44.3,287.5 339.8,287.5" fill="none" stroke="#ff2020" stroke-width="1.0" stroke-linejoin="round" stroke-dasharray="1.6,1.1" stroke-linecap="butt"/>
<polyline points="140.0,228.9 141.9,229.9 144.9,234.3 153.9,234.9 163.8,235.5 173.7,234.9 177.7,235.0 180.0,234.3 187.6,235.3 189.5,242.8 192.3,243.8 194.2,251.9 203.7,251.9 206.5,259.9 208.4,259.6 211.8,260.8 215.2,261.4 218.6,262.1 222.0,262.6 225.5,263.6 228.9,264.3 232.3,265.1 234.8,265.7 237.4,265.3 240.8,264.5 245.9,263.6 251.0,264.5 256.1,265.7 259.5,266.2 260.0,265.6 263.4,269.0 266.8,270.3 270.2,271.7 273.6,272.9 277.0,274.1 280.5,276.3 282.2,277.2 285.6,278.3 289.0,279.2 292.4,279.7 295.8,280.4 299.2,280.9 300.0,281.0 305.1,281.9 307.7,283.0 312.8,282.6 316.6,281.9 318.5,282.8 319.8,284.0" fill="none" stroke="#2a77c4" stroke-width="1.3" stroke-linejoin="round" stroke-linecap="round" />
<polyline points="140.0,228.9 141.9,230.3 144.9,242.9 153.9,243.3 163.8,243.5 172.8,243.9 176.1,238.9 180.0,238.1 187.6,239.0 190.4,245.7 193.3,246.6 195.2,256.1 203.7,256.1 206.5,260.8 208.4,260.4 211.8,261.2 215.2,261.9 220.0,262.9 225.5,264.0 230.0,265.0 234.8,265.7 239.1,265.3 245.9,264.0 251.0,265.3 256.1,266.2 260.0,267.8 263.4,270.3 266.8,271.2 270.2,272.9 273.6,274.1 277.0,275.5 280.5,276.8 284.7,278.0 286.9,280.6 288.6,284.8 291.5,285.3 293.2,281.4 295.8,280.6 300.0,280.8 305.1,282.0 307.7,283.3 312.8,282.8 316.6,282.0 318.5,283.0 319.8,284.0" fill="none" stroke="#f19446" stroke-width="1.3" stroke-linejoin="round" stroke-linecap="round" />
<polyline points="44.5,267.8 47.4,267.3 50.8,266.9 54.2,266.7 57.6,266.1 60.5,265.9 62.8,264.4 64.5,264.1 66.7,263.9 69.0,262.7 71.8,262.2 73.5,260.7 75.8,256.8 78.1,256.5 80.4,253.4 82.1,250.8 84.8,250.6 87.7,248.9 90.5,248.5 93.4,247.5 95.6,246.8 97.9,246.6 99.6,243.2 101.3,240.7 103.6,240.3 105.3,238.1 107.0,235.0 109.3,234.3 111.5,233.9 113.8,232.7 116.1,232.4 118.4,231.8 120.6,231.5 122.0,231.3 122.4,230.9 128.1,229.8 133.8,229.2 140.0,228.8 143.9,229.1 153.9,229.3 163.8,229.9 171.8,230.9 180.0,231.6 184.7,232.4 188.5,240.9 191.4,241.9 194.2,249.5 203.7,249.5 206.5,258.9 208.4,259.4 211.8,260.6 215.2,261.2 218.6,261.9 222.0,262.3 225.5,263.3 228.9,264.0 232.3,265.0 234.8,265.7 237.4,264.5 240.8,262.8 244.2,261.1 246.8,260.6 249.3,261.6 252.7,262.3 256.1,263.6 259.5,264.5 260.0,263.8 263.4,265.2 266.8,265.6 269.4,267.8 271.9,268.3 274.5,270.3 277.0,272.0 279.6,273.7 282.2,276.8 285.6,278.0 289.0,278.9 292.4,279.4 295.8,280.2 299.2,280.6 300.0,280.7 304.5,280.9 307.0,278.9 309.6,278.5 311.5,276.4 313.4,273.2 316.0,273.2 317.3,276.0 319.2,281.1 320.5,283.7 323.0,284.0 325.6,284.3 328.8,284.9 331.3,282.8 333.5,281.5 335.8,281.7 338.6,283.3" fill="none" stroke="#1a1a1a" stroke-width="1.3" stroke-linejoin="round" stroke-linecap="round" />
<defs><linearGradient id="gc" x1="0" y1="0" x2="0" y2="1"><stop offset="0" stop-color="#f5f8ef"/><stop offset="0.5" stop-color="#e1eacf"/><stop offset="0.86" stop-color="#ccddb0"/><stop offset="1" stop-color="#dde7cb"/></linearGradient><linearGradient id="pc" x1="0" y1="0" x2="0" y2="1"><stop offset="0" stop-color="#faf3f2"/><stop offset="0.45" stop-color="#eed0ce"/><stop offset="0.86" stop-color="#e3aeac"/><stop offset="1" stop-color="#e9bebc"/></linearGradient></defs>
<line x1="46.5" y1="396.5" x2="335.5" y2="396.5" stroke="#e3e3e3" stroke-width="1"/>
<line x1="46.5" y1="406.5" x2="335.5" y2="406.5" stroke="#e3e3e3" stroke-width="1"/>
<line x1="46.5" y1="417.5" x2="335.5" y2="417.5" stroke="#e3e3e3" stroke-width="1"/>
<line x1="46.5" y1="427.5" x2="335.5" y2="427.5" stroke="#e3e3e3" stroke-width="1"/>
<line x1="46.5" y1="438.5" x2="335.5" y2="438.5" stroke="#e3e3e3" stroke-width="1"/>
<line x1="46.5" y1="448.5" x2="335.5" y2="448.5" stroke="#e3e3e3" stroke-width="1"/>
<line x1="46.5" y1="459.5" x2="335.5" y2="459.5" stroke="#e3e3e3" stroke-width="1"/>
<line x1="46.5" y1="469.5" x2="335.5" y2="469.5" stroke="#e3e3e3" stroke-width="1"/>
<line x1="46.5" y1="480.5" x2="335.5" y2="480.5" stroke="#e3e3e3" stroke-width="1"/>
<line x1="46.5" y1="490.5" x2="335.5" y2="490.5" stroke="#e3e3e3" stroke-width="1"/>
<line x1="67.5" y1="396.5" x2="67.5" y2="501.5" stroke="#e3e3e3" stroke-width="1"/>
<line x1="89.5" y1="396.5" x2="89.5" y2="501.5" stroke="#e3e3e3" stroke-width="1"/>
<line x1="110.5" y1="396.5" x2="110.5" y2="501.5" stroke="#e3e3e3" stroke-width="1"/>
<line x1="132.5" y1="396.5" x2="132.5" y2="501.5" stroke="#e3e3e3" stroke-width="1"/>
<line x1="153.5" y1="396.5" x2="153.5" y2="501.5" stroke="#e3e3e3" stroke-width="1"/>
<line x1="174.5" y1="396.5" x2="174.5" y2="501.5" stroke="#e3e3e3" stroke-width="1"/>
<line x1="196.5" y1="396.5" x2="196.5" y2="501.5" stroke="#e3e3e3" stroke-width="1"/>
<line x1="217.5" y1="396.5" x2="217.5" y2="501.5" stroke="#e3e3e3" stroke-width="1"/>
<line x1="239.5" y1="396.5" x2="239.5" y2="501.5" stroke="#e3e3e3" stroke-width="1"/>
<line x1="260.5" y1="396.5" x2="260.5" y2="501.5" stroke="#e3e3e3" stroke-width="1"/>
<line x1="281.5" y1="396.5" x2="281.5" y2="501.5" stroke="#e3e3e3" stroke-width="1"/>
<line x1="303.5" y1="396.5" x2="303.5" y2="501.5" stroke="#e3e3e3" stroke-width="1"/>
<line x1="324.5" y1="396.5" x2="324.5" y2="501.5" stroke="#e3e3e3" stroke-width="1"/>
<rect x="140.2" y="396.0" width="60.80000000000001" height="105.0" fill="url(#gc)"/>
<rect x="201.0" y="396.0" width="112.5" height="105.0" fill="url(#pc)"/>
<line x1="335.5" y1="396.5" x2="335.5" y2="501.5" stroke="#c8c8c8" stroke-width="1"/>
<line x1="46.5" y1="396.0" x2="46.5" y2="502.0" stroke="#404040" stroke-width="1"/>
<line x1="46.5" y1="501.5" x2="336.0" y2="501.5" stroke="#404040" stroke-width="1"/>
<line x1="44.0" y1="396.5" x2="46.5" y2="396.5" stroke="#404040" stroke-width="1"/>
<line x1="44.0" y1="406.5" x2="46.5" y2="406.5" stroke="#404040" stroke-width="1"/>
<line x1="44.0" y1="417.5" x2="46.5" y2="417.5" stroke="#404040" stroke-width="1"/>
<line x1="44.0" y1="427.5" x2="46.5" y2="427.5" stroke="#404040" stroke-width="1"/>
<line x1="44.0" y1="438.5" x2="46.5" y2="438.5" stroke="#404040" stroke-width="1"/>
<line x1="44.0" y1="448.5" x2="46.5" y2="448.5" stroke="#404040" stroke-width="1"/>
<line x1="44.0" y1="459.5" x2="46.5" y2="459.5" stroke="#404040" stroke-width="1"/>
<line x1="44.0" y1="469.5" x2="46.5" y2="469.5" stroke="#404040" stroke-width="1"/>
<line x1="44.0" y1="480.5" x2="46.5" y2="480.5" stroke="#404040" stroke-width="1"/>
<line x1="44.0" y1="490.5" x2="46.5" y2="490.5" stroke="#404040" stroke-width="1"/>
<line x1="44.0" y1="501.5" x2="46.5" y2="501.5" stroke="#404040" stroke-width="1"/>
<line x1="46.5" y1="501.5" x2="46.5" y2="503.5" stroke="#404040" stroke-width="1"/>
<line x1="67.5" y1="501.5" x2="67.5" y2="503.5" stroke="#404040" stroke-width="1"/>
<line x1="89.5" y1="501.5" x2="89.5" y2="503.5" stroke="#404040" stroke-width="1"/>
<line x1="110.5" y1="501.5" x2="110.5" y2="503.5" stroke="#404040" stroke-width="1"/>
<line x1="132.5" y1="501.5" x2="132.5" y2="503.5" stroke="#404040" stroke-width="1"/>
<line x1="153.5" y1="501.5" x2="153.5" y2="503.5" stroke="#404040" stroke-width="1"/>
<line x1="174.5" y1="501.5" x2="174.5" y2="503.5" stroke="#404040" stroke-width="1"/>
<line x1="196.5" y1="501.5" x2="196.5" y2="503.5" stroke="#404040" stroke-width="1"/>
<line x1="217.5" y1="501.5" x2="217.5" y2="503.5" stroke="#404040" stroke-width="1"/>
<line x1="239.5" y1="501.5" x2="239.5" y2="503.5" stroke="#404040" stroke-width="1"/>
<line x1="260.5" y1="501.5" x2="260.5" y2="503.5" stroke="#404040" stroke-width="1"/>
<line x1="281.5" y1="501.5" x2="281.5" y2="503.5" stroke="#404040" stroke-width="1"/>
<line x1="303.5" y1="501.5" x2="303.5" y2="503.5" stroke="#404040" stroke-width="1"/>
<line x1="324.5" y1="501.5" x2="324.5" y2="503.5" stroke="#404040" stroke-width="1"/>
<text x="40.4" y="398.59999999999997" font-family='"Liberation Sans", Arial, sans-serif' font-size="6.5" text-anchor="end" font-weight="normal" fill="#2a2a2a" stroke="#2a2a2a" stroke-width="0.12" >5000</text>
<text x="40.4" y="409.10999999999996" font-family='"Liberation Sans", Arial, sans-serif' font-size="6.5" text-anchor="end" font-weight="normal" fill="#2a2a2a" stroke="#2a2a2a" stroke-width="0.12" >4500</text>
<text x="40.4" y="419.62" font-family='"Liberation Sans", Arial, sans-serif' font-size="6.5" text-anchor="end" font-weight="normal" fill="#2a2a2a" stroke="#2a2a2a" stroke-width="0.12" >4000</text>
<text x="40.4" y="430.13" font-family='"Liberation Sans", Arial, sans-serif' font-size="6.5" text-anchor="end" font-weight="normal" fill="#2a2a2a" stroke="#2a2a2a" stroke-width="0.12" >3500</text>
<text x="40.4" y="440.64" font-family='"Liberation Sans", Arial, sans-serif' font-size="6.5" text-anchor="end" font-weight="normal" fill="#2a2a2a" stroke="#2a2a2a" stroke-width="0.12" >3000</text>
<text x="40.4" y="451.15" font-family='"Liberation Sans", Arial, sans-serif' font-size="6.5" text-anchor="end" font-weight="normal" fill="#2a2a2a" stroke="#2a2a2a" stroke-width="0.12" >2500</text>
<text x="40.4" y="461.65999999999997" font-family='"Liberation Sans", Arial, sans-serif' font-size="6.5" text-anchor="end" font-weight="normal" fill="#2a2a2a" stroke="#2a2a2a" stroke-width="0.12" >2000</text>
<text x="40.4" y="472.17" font-family='"Liberation Sans", Arial, sans-serif' font-size="6.5" text-anchor="end" font-weight="normal" fill="#2a2a2a" stroke="#2a2a2a" stroke-width="0.12" >1500</text>
<text x="40.4" y="482.68" font-family='"Liberation Sans", Arial, sans-serif' font-size="6.5" text-anchor="end" font-weight="normal" fill="#2a2a2a" stroke="#2a2a2a" stroke-width="0.12" >1000</text>
<text x="40.4" y="493.19" font-family='"Liberation Sans", Arial, sans-serif' font-size="6.5" text-anchor="end" font-weight="normal" fill="#2a2a2a" stroke="#2a2a2a" stroke-width="0.12" >500</text>
<text x="40.4" y="503.7" font-family='"Liberation Sans", Arial, sans-serif' font-size="6.5" text-anchor="end" font-weight="normal" fill="#2a2a2a" stroke="#2a2a2a" stroke-width="0.12" >0</text>
<text x="46.5" y="513.5" font-family='"Liberation Sans", Arial, sans-serif' font-size="6.5" text-anchor="middle" font-weight="normal" fill="#2a2a2a" stroke="#2a2a2a" stroke-width="0.12" >5:00</text>
<text x="46.5" y="522.2" font-family='"Liberation Sans", Arial, sans-serif' font-size="6.5" text-anchor="middle" font-weight="normal" fill="#2a2a2a" stroke="#2a2a2a" stroke-width="0.12" >PM</text>
<text x="67.9" y="513.5" font-family='"Liberation Sans", Arial, sans-serif' font-size="6.5" text-anchor="middle" font-weight="normal" fill="#2a2a2a" stroke="#2a2a2a" stroke-width="0.12" >7:00</text>
<text x="67.9" y="522.2" font-family='"Liberation Sans", Arial, sans-serif' font-size="6.5" text-anchor="middle" font-weight="normal" fill="#2a2a2a" stroke="#2a2a2a" stroke-width="0.12" >PM</text>
<text x="89.3" y="513.5" font-family='"Liberation Sans", Arial, sans-serif' font-size="6.5" text-anchor="middle" font-weight="normal" fill="#2a2a2a" stroke="#2a2a2a" stroke-width="0.12" >8:30</text>
<text x="89.3" y="522.2" font-family='"Liberation Sans", Arial, sans-serif' font-size="6.5" text-anchor="middle" font-weight="normal" fill="#2a2a2a" stroke="#2a2a2a" stroke-width="0.12" >PM</text>
<text x="110.7" y="513.5" font-family='"Liberation Sans", Arial, sans-serif' font-size="6.5" text-anchor="middle" font-weight="normal" fill="#2a2a2a" stroke="#2a2a2a" stroke-width="0.12" >10:30</text>
<text x="110.7" y="522.2" font-family='"Liberation Sans", Arial, sans-serif' font-size="6.5" text-anchor="middle" font-weight="normal" fill="#2a2a2a" stroke="#2a2a2a" stroke-width="0.12" >PM</text>
<text x="132.1" y="513.5" font-family='"Liberation Sans", Arial, sans-serif' font-size="6.5" text-anchor="middle" font-weight="normal" fill="#2a2a2a" stroke="#2a2a2a" stroke-width="0.12" >12:00</text>
<text x="132.1" y="522.2" font-family='"Liberation Sans", Arial, sans-serif' font-size="6.5" text-anchor="middle" font-weight="normal" fill="#2a2a2a" stroke="#2a2a2a" stroke-width="0.12" >AM</text>
<text x="153.5" y="513.5" font-family='"Liberation Sans", Arial, sans-serif' font-size="6.5" text-anchor="middle" font-weight="normal" fill="#2a2a2a" stroke="#2a2a2a" stroke-width="0.12" >2:00</text>
<text x="153.5" y="522.2" font-family='"Liberation Sans", Arial, sans-serif' font-size="6.5" text-anchor="middle" font-weight="normal" fill="#2a2a2a" stroke="#2a2a2a" stroke-width="0.12" >AM</text>
<text x="174.9" y="513.5" font-family='"Liberation Sans", Arial, sans-serif' font-size="6.5" text-anchor="middle" font-weight="normal" fill="#2a2a2a" stroke="#2a2a2a" stroke-width="0.12" >3:30</text>
<text x="174.9" y="522.2" font-family='"Liberation Sans", Arial, sans-serif' font-size="6.5" text-anchor="middle" font-weight="normal" fill="#2a2a2a" stroke="#2a2a2a" stroke-width="0.12" >AM</text>
<text x="196.3" y="513.5" font-family='"Liberation Sans", Arial, sans-serif' font-size="6.5" text-anchor="middle" font-weight="normal" fill="#2a2a2a" stroke="#2a2a2a" stroke-width="0.12" >5:30</text>
<text x="196.3" y="522.2" font-family='"Liberation Sans", Arial, sans-serif' font-size="6.5" text-anchor="middle" font-weight="normal" fill="#2a2a2a" stroke="#2a2a2a" stroke-width="0.12" >AM</text>
<text x="217.7" y="513.5" font-family='"Liberation Sans", Arial, sans-serif' font-size="6.5" text-anchor="middle" font-weight="normal" fill="#2a2a2a" stroke="#2a2a2a" stroke-width="0.12" >7:00</text>
<text x="217.7" y="522.2" font-family='"Liberation Sans", Arial, sans-serif' font-size="6.5" text-anchor="middle" font-weight="normal" fill="#2a2a2a" stroke="#2a2a2a" stroke-width="0.12" >AM</text>
<text x="239.1" y="513.5" font-family='"Liberation Sans", Arial, sans-serif' font-size="6.5" text-anchor="middle" font-weight="normal" fill="#2a2a2a" stroke="#2a2a2a" stroke-width="0.12" >9:00</text>
<text x="239.1" y="522.2" font-family='"Liberation Sans", Arial, sans-serif' font-size="6.5" text-anchor="middle" font-weight="normal" fill="#2a2a2a" stroke="#2a2a2a" stroke-width="0.12" >AM</text>
<text x="260.5" y="513.5" font-family='"Liberation Sans", Arial, sans-serif' font-size="6.5" text-anchor="middle" font-weight="normal" fill="#2a2a2a" stroke="#2a2a2a" stroke-width="0.12" >10:30</text>
<text x="260.5" y="522.2" font-family='"Liberation Sans", Arial, sans-serif' font-size="6.5" text-anchor="middle" font-weight="normal" fill="#2a2a2a" stroke="#2a2a2a" stroke-width="0.12" >AM</text>
<text x="281.9" y="513.5" font-family='"Liberation Sans", Arial, sans-serif' font-size="6.5" text-anchor="middle" font-weight="normal" fill="#2a2a2a" stroke="#2a2a2a" stroke-width="0.12" >12:30</text>
<text x="281.9" y="522.2" font-family='"Liberation Sans", Arial, sans-serif' font-size="6.5" text-anchor="middle" font-weight="normal" fill="#2a2a2a" stroke="#2a2a2a" stroke-width="0.12" >PM</text>
<text x="303.3" y="513.5" font-family='"Liberation Sans", Arial, sans-serif' font-size="6.5" text-anchor="middle" font-weight="normal" fill="#2a2a2a" stroke="#2a2a2a" stroke-width="0.12" >2:00</text>
<text x="303.3" y="522.2" font-family='"Liberation Sans", Arial, sans-serif' font-size="6.5" text-anchor="middle" font-weight="normal" fill="#2a2a2a" stroke="#2a2a2a" stroke-width="0.12" >PM</text>
<text x="324.7" y="513.5" font-family='"Liberation Sans", Arial, sans-serif' font-size="6.5" text-anchor="middle" font-weight="normal" fill="#2a2a2a" stroke="#2a2a2a" stroke-width="0.12" >4:00</text>
<text x="324.7" y="522.2" font-family='"Liberation Sans", Arial, sans-serif' font-size="6.5" text-anchor="middle" font-weight="normal" fill="#2a2a2a" stroke="#2a2a2a" stroke-width="0.12" >PM</text>
<text transform="translate(17.3,440.8) rotate(-90)" x="0" y="0" font-family='"Liberation Sans", Arial, sans-serif' font-size="6.8" font-weight="bold" text-anchor="middle" fill="#1e1e1e" stroke="#1e1e1e" stroke-width="0.3" textLength="75.9" lengthAdjust="spacingAndGlyphs">Power Consumption (kW)</text>
<text x="184.1" y="530.0" font-family='"Liberation Sans", Arial, sans-serif' font-size="6.7" text-anchor="middle" font-weight="bold" fill="#1e1e1e" stroke="#1e1e1e" stroke-width="0.2" >Time</text>
<text x="178" y="546" font-family='"Liberation Serif", "Times New Roman", serif' font-size="9.6" text-anchor="middle" font-weight="bold" fill="#111" >(c)</text>
<text x="170.3" y="409.7" font-family='"Liberation Sans", Arial, sans-serif' font-size="8.3" text-anchor="middle" font-weight="normal" fill="#383838" textLength="48.7" lengthAdjust="spacingAndGlyphs" stroke="#383838" stroke-width="0.25" >Home Charging</text>
<text x="171.3" y="418.8" font-family='"Liberation Sans", Arial, sans-serif' font-size="8.3" text-anchor="middle" font-weight="normal" fill="#383838" textLength="28.8" lengthAdjust="spacingAndGlyphs" stroke="#383838" stroke-width="0.25" >Activities</text>
<text x="242.9" y="410.4" font-family='"Liberation Sans", Arial, sans-serif' font-size="8.3" text-anchor="middle" font-weight="normal" fill="#383838" textLength="64.3" lengthAdjust="spacingAndGlyphs" stroke="#383838" stroke-width="0.25" >Workplace Charging</text>
<text x="243.3" y="419.2" font-family='"Liberation Sans", Arial, sans-serif' font-size="8.3" text-anchor="middle" font-weight="normal" fill="#383838" textLength="28.8" lengthAdjust="spacingAndGlyphs" stroke="#383838" stroke-width="0.25" >Activities</text>
<rect x="7.6" y="375.8" width="340.5" height="15.2" rx="0.8" fill="#fff" stroke="#404040" stroke-width="1.1"/>
<polyline points="13.2,383.0 27.6,383.0" fill="none" stroke="#2a77c4" stroke-width="1.3" stroke-linejoin="round" stroke-linecap="butt"/>
<text x="28.6" y="385.4" font-family='"Liberation Sans", Arial, sans-serif' font-size="6.6" text-anchor="start" font-weight="normal" fill="#303030" textLength="118.3" lengthAdjust="spacingAndGlyphs" stroke="#303030" stroke-width="0.1" >Power Consumption_Penetration Level-I</text>
<polyline points="153.3,383.0 167.3,383.0" fill="none" stroke="#f19446" stroke-width="1.3" stroke-linejoin="round" stroke-linecap="butt"/>
<text x="167.6" y="385.4" font-family='"Liberation Sans", Arial, sans-serif' font-size="6.6" text-anchor="start" font-weight="normal" fill="#303030" textLength="120.6" lengthAdjust="spacingAndGlyphs" stroke="#303030" stroke-width="0.1" >Power Consumption_Penetration Level-II</text>
<polyline points="293.5,383.0 307.8,383.0" fill="none" stroke="#111" stroke-width="1.2" stroke-linejoin="round" stroke-linecap="butt"/>
<text x="309" y="385.4" font-family='"Liberation Sans", Arial, sans-serif' font-size="6.6" text-anchor="start" font-weight="normal" fill="#303030" textLength="36" lengthAdjust="spacingAndGlyphs" stroke="#303030" stroke-width="0.1" >Without EVs</text>
<polyline points="140.9,474.5 144.1,465.5 152.7,465.5 164.1,465.5 172.0,465.0 175.5,463.2 183.4,461.4 186.4,456.4 189.5,455.2 192.5,449.5 201.6,449.5 205.0,453.6 209.9,451.8 214.9,451.0 219.9,449.8 223.9,447.3 225.0,446.9 227.3,446.3 229.5,444.0 231.8,443.7 234.1,443.5 236.4,443.3 239.2,442.6 242.0,442.2 244.9,442.2 247.2,439.3 249.4,438.2 251.7,436.8 254.0,435.0 256.3,434.2 258.5,432.3 261.4,431.4 262.0,431.4 264.3,430.6 266.5,428.9 268.8,429.1 271.1,427.7 272.8,427.5 274.5,426.6" fill="none" stroke="#2a77c4" stroke-width="1.3" stroke-linejoin="round" stroke-linecap="round" />
<polyline points="140.9,474.5 144.3,455.9 152.7,455.7 164.1,455.5 172.0,455.2 175.5,453.6 180.0,453.0 183.4,451.8 186.4,446.8 189.5,446.1 193.2,439.8 201.6,439.8 205.0,451.8 209.9,451.6 214.9,450.8 219.9,449.4 223.9,446.8 227.3,446.0 229.5,443.8 231.8,443.5 234.1,443.1 236.4,442.7 239.2,441.8 242.0,441.0 244.9,440.5 247.2,437.6 249.4,437.0 251.7,435.3 254.0,433.6 256.3,432.5 258.5,430.8 261.4,430.0 262.0,430.0 265.4,428.3 268.3,427.7 270.5,426.6 273.4,424.9 275.1,423.8 276.8,423.0 279.0,421.3 281.3,420.5 283.6,419.3 285.9,418.4 288.1,417.5 290.4,416.7 292.7,415.9 295.0,415.6 297.2,415.3 299.5,414.5 300.5,412.5 302.3,409.9 303.4,409.3 312.9,409.3 315.1,410.3" fill="none" stroke="#f19446" stroke-width="1.3" stroke-linejoin="round" stroke-linecap="round" />
<polyline points="46.5,417.4 49.7,418.2 52.5,418.8 55.4,419.2 58.2,419.7 61.0,419.9 63.2,421.4 65.3,423.1 67.4,423.5 69.6,424.9 71.7,426.3 73.8,427.0 76.0,429.6 77.4,431.3 79.5,431.6 81.6,433.4 83.8,435.9 85.9,436.3 88.0,437.7 90.2,439.1 92.3,439.5 94.0,440.5 95.0,441.8 97.8,442.4 99.2,446.4 101.4,452.8 104.2,453.5 105.6,457.7 107.8,463.4 110.6,464.1 113.4,466.3 116.3,466.5 119.1,468.8 122.0,469.8 124.8,471.2 127.6,472.2 130.5,473.1 133.3,474.1 136.2,474.5 140.0,475.0 141.4,474.5 152.7,475.0 164.1,475.0 170.9,474.1 174.3,472.7 178.9,471.8 183.4,470.0 186.8,466.6 189.5,465.5 191.4,463.2 193.6,459.8 198.2,459.1 202.0,458.7 205.0,453.7 209.9,452.1 214.9,451.3 219.9,450.1 223.9,447.7 225.0,447.3 227.3,446.7 229.5,444.4 231.8,444.1 234.1,443.9 236.4,443.9 239.2,443.3 242.0,443.1 244.9,443.3 246.6,441.6 248.3,440.2 250.6,439.5 252.3,438.0 254.5,436.8 256.8,435.9 259.1,434.2 261.4,433.4 263.6,432.5 264.3,433.4 266.5,431.4 268.8,430.9 270.5,429.1 272.8,427.7 274.5,426.6 276.8,423.2 279.0,421.5 281.3,420.7 283.6,419.5 285.9,418.6 288.1,417.7 290.4,416.9 292.7,416.1 295.0,415.8 297.2,415.5 299.5,414.7 301.2,413.0 303.4,412.5 306.6,413.8 309.7,415.7 312.3,415.7 315.1,410.3 319.3,409.9 323.6,409.5 326.8,413.1 328.9,414.6 331.1,414.2 333.6,412.0" fill="none" stroke="#111" stroke-width="1.45" stroke-linejoin="round" stroke-linecap="round" />
</svg></body></html>
